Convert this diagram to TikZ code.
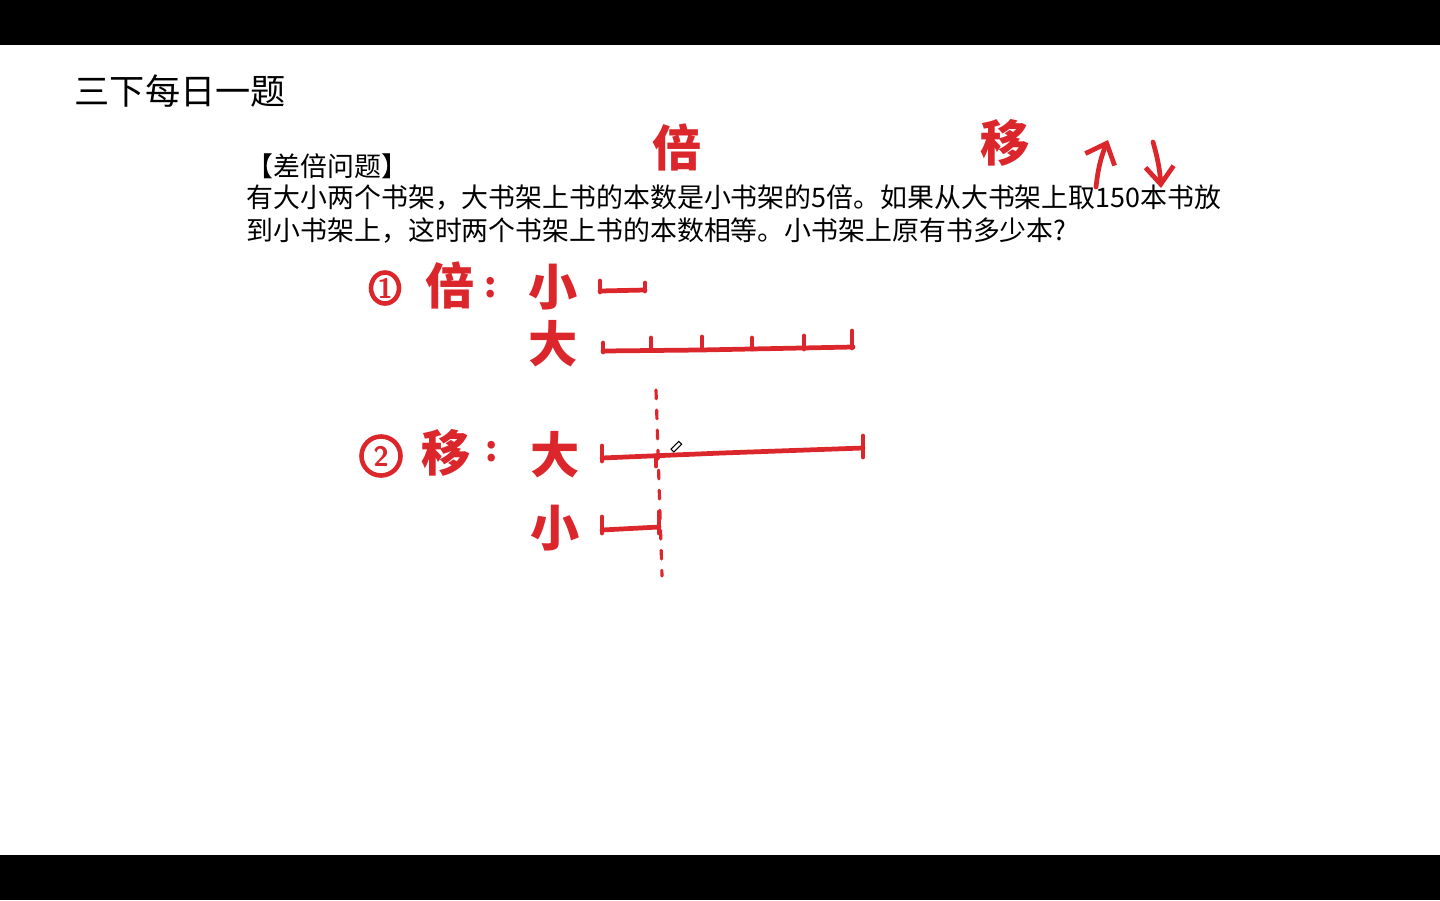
\documentclass[tikz,border=0pt]{standalone}
\usepackage{fontspec}
\usepackage{tikz}
\usetikzlibrary{arrows.meta}
\usetikzlibrary{shapes.geometric}
\newfontfamily\cjk{Noto Sans CJK SC}
\definecolor{penred}{RGB}{219,38,44}

\begin{document}
\begin{tikzpicture}[x=0.01cm, y=-0.01cm,
	hand/.style={text=penred, font=\cjk\bfseries\fontsize{14pt}{14pt}\selectfont, inner sep=0pt},
	line/.style={text=black, font=\cjk\fontsize{7.65pt}{9pt}\selectfont, anchor=west, inner sep=0pt},
	pen/.style={draw=penred, line width=1.35pt, line cap=round, line join=round},
	num/.style={draw=penred, line width=1.3pt, text=penred, font=\sffamily\bfseries\fontsize{8pt}{8pt}\selectfont, inner sep=0pt}]
		\useasboundingbox (0,0) rectangle (1440,900);
		\fill[black] (0,0) rectangle (1440,45);
		\fill[black] (0,855) rectangle (1440,900);

		% title and problem
		\node[line, font=\cjk\fontsize{10pt}{10pt}\selectfont] (title) at (74,91) {三下每日一题};
		\node[line] (head) at (246,166) {【差倍问题】};
		\node[line] (lineA) at (246,198) {有大小两个书架，大书架上书的本数是小书架的5倍。如果从大书架上取150本书放};
		\node[line] (lineB) at (246,231) {到小书架上，这时两个书架上书的本数相等。小书架上原有书多少本?};

		% notes above the text
		\node[hand] (bei) at (677,147) {倍};
		\node[hand] (yi) at (1005,143) {移};
		\coordinate (upA) at (1096,187);
		\coordinate (upB) at (1108,140);
		\coordinate (dnA) at (1153,142);
		\coordinate (dnB) at (1161,188);
		\draw[pen, -{Straight Barb[length=5pt, width=9pt]}] (upA) to[bend left=8] (upB);
		\draw[pen, -{Straight Barb[length=5pt, width=8pt]}] (dnA) to[bend left=6] (dnB);

		% step 1
		\node[num, ellipse, minimum width=0.28cm, minimum height=0.31cm] (one) at (385,288) {1};
		\node[hand] (beiA) at (450,285) {倍};
		\node[hand, font=\cjk\bfseries\fontsize{10pt}{10pt}\selectfont] (colA) at (491,288) {:};
		\node[hand] (smallA) at (553,287) {小};
		\node[hand] (bigA) at (553,344) {大};

		\draw[pen] (600,281) -- (600,292);
		\draw[pen] (600,291) -- (645,290);
		\draw[pen] (645,283) -- (645,291);

		\draw[pen] (603,343) -- (603,352);
		\draw[pen] (603,351) -- (700,350) -- (853,347);
		\foreach \t/\h in {651/338, 702/337, 752/338, 804/336}
			\draw[pen] (\t,\h) -- (\t,349);
		\draw[pen] (852,331) -- (852,348);

		% step 2
		\node[num, circle, minimum size=0.39cm] (two) at (381,456) {2};
		\node[hand] (yiB) at (446,453) {移};
		\node[hand, font=\cjk\bfseries\fontsize{10pt}{10pt}\selectfont] (colB) at (492,452) {:};
		\node[hand] (bigB) at (555,455) {大};
		\node[hand] (smallB) at (555,528) {小};

		\draw[pen] (602,446) -- (602,461);
		\draw[pen] (602,458) -- (722,453) -- (863,448);
		\draw[pen] (863,436) -- (863,457);
		\draw[pen] (656,458) -- (656,466);

		\draw[pen] (602,517) -- (602,533);
		\draw[pen] (602,530) -- (659,527);
		\draw[pen] (659,512) -- (659,533);

		\draw[pen, line width=0.9pt, dash pattern=on 2.5pt off 3.2pt] (656,390) -- (662,576);

		% pencil cursor
		\draw[black, line width=0.3pt, fill=white, rotate around={45:(676,447)}] (671,445) rectangle (682,449);
\end{tikzpicture}
\end{document}
